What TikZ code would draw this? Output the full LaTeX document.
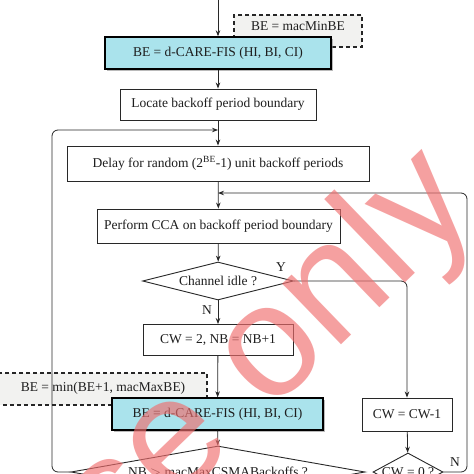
\documentclass[tikz,border=0pt]{standalone}
\usepackage{fontspec}
\setmainfont{Liberation Serif}
\newfontfamily\wmfont{Liberation Sans}
\usetikzlibrary{shapes.geometric,arrows.meta,shadows}
\definecolor{cyanbox}{RGB}{170,227,236}
\definecolor{dashfill}{RGB}{242,242,240}
\definecolor{linecol}{RGB}{40,40,40}
\definecolor{txtcol}{RGB}{30,30,30}
\definecolor{wmred}{RGB}{240,110,110}
\begin{document}
\begin{tikzpicture}[x=1pt,y=-1pt,
  font=\fontsize{13.5}{16}\selectfont,
  box/.style={draw=linecol, fill=white, rectangle, line width=0.9pt, inner sep=0pt, text=txtcol},
  bluebox/.style={draw=black, fill=cyanbox, rectangle, line width=1.4pt, inner sep=0pt, text=txtcol,
    drop shadow={shadow xshift=2.2pt, shadow yshift=-2.2pt, fill=black!45, opacity=0.6}},
  dbox/.style={draw=black!85, fill=dashfill, rectangle, dash pattern=on 4pt off 3pt, line width=1.1pt, inner sep=0pt},
  dia/.style={diamond, draw=linecol, line width=0.9pt, fill=white, inner sep=0pt},
  lbl/.style={inner sep=0pt, text=txtcol},
  arr/.style={draw=linecol, line width=0.8pt, -{Stealth[length=6pt,width=4.5pt]}},
  rc/.style={rounded corners=6pt},
]
\useasboundingbox (0,0) rectangle (474,474);
\clip (0,0) rectangle (474,474);
\fill[white] (0,0) rectangle (474,474);

\coordinate (top) at (218,0);
\node[dbox, minimum width=128, minimum height=32] (d1) at (298,31) {};
\node[lbl] (d1t) at (298,26) {BE = macMinBE};
\node[bluebox, minimum width=226, minimum height=32] (b1) at (218,53) {BE = d-CARE-FIS (HI, BI, CI)};
\node[box, minimum width=196, minimum height=31] (loc) at (218,104.5) {Locate backoff period boundary};
\node[box, minimum width=302, minimum height=35] (del) at (218,163.5) {Delay for random (2\textsuperscript{BE}-1) unit backoff periods};
\node[box, minimum width=243, minimum height=34] (cca) at (218.5,226) {Perform CCA on backoff period boundary};
\node[dia, minimum width=151, minimum height=38] (ch) at (218,281) {};
\node[lbl] (cht) at (218,281) {Channel idle ?};
\node[box, minimum width=150, minimum height=31] (cw2) at (218,340) {CW = 2, NB = NB+1};
\node[dbox, minimum width=211, minimum height=32] (d2) at (101.5,389) {};
\node[lbl] (d2t) at (103,388) {BE = min(BE+1, macMaxBE)};
\node[bluebox, minimum width=211, minimum height=32] (b2) at (217.5,414) {BE = d-CARE-FIS (HI, BI, CI)};
\node[box, minimum width=90, minimum height=33] (cw1) at (407,414.5) {CW = CW-1};
\node[dia, minimum width=294, minimum height=52] (nb) at (218,472) {};
\node[lbl] (nbt) at (218,472) {NB $>$ macMaxCSMABackoffs ?};
\node[dia, minimum width=70, minimum height=38] (cw0) at (408,472) {};
\node[lbl] (cw0t) at (408,472) {CW = 0 ?};

\node[lbl] (ylab) at (281,267) {Y};
\node[lbl] (nlab) at (207,310) {N};
\node[lbl] (nlab2) at (455,462) {N};

\coordinate (lj) at (218,130);
\coordinate (lc) at (52,130);
\coordinate (rj) at (218,193);
\coordinate (rcn) at (467,193);

\draw[arr] (top) -- (b1.north);
\draw[arr] (b1) -- (loc);
\draw[arr] (loc) -- (del);
\draw[arr] (del) -- (cca);
\draw[arr] (cca) -- (ch);
\draw[arr] (ch) -- (cw2);
\draw[arr] (cw2) -- (b2);
\draw[arr] (b2) -- (nb);
\draw[arr] (cw1) -- (cw0);
\draw[arr, rc] (ch.east) -| (cw1.north);
\draw[arr, rc] (nb.west) -| (lc) -- (lj);
\draw[arr, rc] (cw0.east) -| (rcn) -- (rj);

\node[rotate=44, text=wmred, opacity=0.65, inner sep=0pt, font=\wmfont\fontsize{160}{160}\selectfont] (wm) at (238,387) {use only};
\end{tikzpicture}
\end{document}
